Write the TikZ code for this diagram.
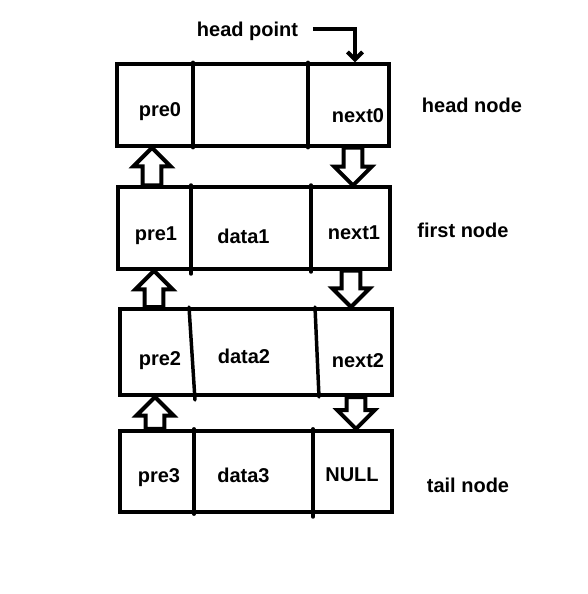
\documentclass[tikz,border=0pt]{standalone}
\usepackage{fontspec}
\setmainfont{Liberation Sans}
\usetikzlibrary{arrows.meta,calc}
\newcommand{\HeadHalf}{14pt}
\newcommand{\ShaftHalf}{7pt}
\newcommand{\HeadLen}{14pt}
% hollow arrow pointing up: x, lower cell, upper cell
\newcommand{\BlockUp}[3]{%
  \draw[blockarr] let \p1=(#1,0 |- #3.south), \p2=(#1,0 |- #2.north) in
    (\x1,\y1) -- (\x1-\HeadHalf,\y1-\HeadLen) -- (\x1-\ShaftHalf,\y1-\HeadLen) -- (\x1-\ShaftHalf,\y2)
    -- (\x1+\ShaftHalf,\y2) -- (\x1+\ShaftHalf,\y1-\HeadLen) -- (\x1+\HeadHalf,\y1-\HeadLen) -- cycle;}
% hollow arrow pointing down: x, upper cell, lower cell
\newcommand{\BlockDown}[3]{%
  \draw[blockarr] let \p1=(#1,0 |- #3.north), \p2=(#1,0 |- #2.south) in
    (\x1,\y1) -- (\x1-\HeadHalf,\y1+\HeadLen) -- (\x1-\ShaftHalf,\y1+\HeadLen) -- (\x1-\ShaftHalf,\y2)
    -- (\x1+\ShaftHalf,\y2) -- (\x1+\ShaftHalf,\y1+\HeadLen) -- (\x1+\HeadHalf,\y1+\HeadLen) -- cycle;}

\begin{document}
\begin{tikzpicture}[
                x=0.75pt, y=-0.75pt,
                font=\fontsize{15}{18}\selectfont\bfseries,
                cell/.style={rectangle, draw, line width=3pt, minimum width=204pt, minimum height=61pt},
                divider/.style={line width=2.6pt, line cap=round},
                blockarr/.style={line width=3pt, line join=miter, fill=white},
                pointer/.style={line width=3pt, -{Straight Barb[angle=90:8pt]}},
                lbl/.style={inner sep=1pt, text depth=0pt},
            ]
            \useasboundingbox (0,0) rectangle (587,594);

            % cells of the list
            \node[cell] (b0) at (252.5,105) {};
            \node[cell] (b1) at (253.5,228) {};
            \node[cell, minimum height=64.5pt] (b2) at (255.5,352) {};
            \node[cell] (b3) at (255.5,471.5) {};

            % dividers
            \draw[divider] (193,0 |- b0.north) -- (193,0 |- b0.south);
            \draw[divider] (308,0 |- b0.north) -- (308,0 |- b0.south);
            \draw[divider] (191,185) -- (191,274);
            \draw[divider] (311,185) -- (311,272);
            \draw[divider] (189,0 |- b2.north) -- (195,400);
            \draw[divider] (315,0 |- b2.north) -- (319,0 |- b2.south);
            \draw[divider] (194,0 |- b3.north) -- (194,0 |- b3.south);
            \draw[divider] (313,0 |- b3.north) -- (313,517);

            % field labels
            \node[lbl] (pre0)  at (160,110) {pre0};
            \node[lbl] (next0) at (358,116) {next0};
            \node[lbl] (pre1)  at (156,234) {pre1};
            \node[lbl] (data1) at (243.5,236) {data1};
            \node[lbl] (next1) at (354,233) {next1};
            \node[lbl] (pre2)  at (160,359) {pre2};
            \node[lbl] (data2) at (244,356) {data2};
            \node[lbl] (next2) at (358,361) {next2};
            \node[lbl] (pre3)  at (159,476) {pre3};
            \node[lbl] (data3) at (243.5,475) {data3};
            \node[lbl] (null3) at (352,475) {NULL};

            % node names
            \node[lbl] (hn) at (472,105) {head node};
            \node[lbl] (fn) at (463,230) {first node};
            \node[lbl] (tn) at (468,485) {tail node};

            % head pointer
            \node[lbl] (hp) at (247.5,29) {head point};
            \draw[pointer] ([xshift=10pt]hp.east) -| (355,0 |- b0.north);

            % prev links
            \BlockUp{152}{b1}{b0}
            \BlockUp{154}{b2}{b1}
            \BlockUp{155}{b3}{b2}

            % next links
            \BlockDown{353}{b0}{b1}
            \BlockDown{351}{b1}{b2}
            \BlockDown{356}{b2}{b3}
        \end{tikzpicture}
\end{document}
